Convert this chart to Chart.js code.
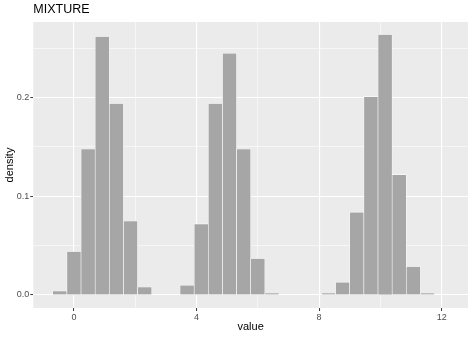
<!DOCTYPE html>
<html>
<head>
<meta charset="utf-8">
<script src="https://cdn.jsdelivr.net/npm/chart.js@4"></script>
<style>
  html, body { margin: 0; padding: 0; background: #ffffff; }
  #wrap { width: 474px; height: 338px; }
</style>
</head>
<body>
<div id="wrap"><canvas id="histChart" width="474" height="338"></canvas></div>
<script>
// ---- DATA ----
// bin centres (value axis)
const binCenters = [
  -0.462, 0.000, 0.462, 0.923, 1.385, 1.846, 2.308, 2.769, 3.231,
  3.692, 4.154, 4.615, 5.077, 5.538, 6.000, 6.462, 6.923, 7.385,
  7.846, 8.308, 8.769, 9.231, 9.692, 10.154, 10.615, 11.077, 11.538
];
// density per bin
const densities = [
  0.004, 0.044, 0.148, 0.262, 0.194, 0.075, 0.008, 0.000, 0.000,
  0.010, 0.072, 0.194, 0.245, 0.148, 0.037, 0.002, 0.000, 0.000,
  0.000, 0.002, 0.013, 0.084, 0.201, 0.264, 0.122, 0.029, 0.002
];
const xTicks = [0, 2, 4, 6, 8, 10, 12];        // majors: 0, 4, 8, 12
const xMajor = [0, 4, 8, 12];
const yTicks = [0, 0.05, 0.1, 0.15, 0.2, 0.25]; // majors: 0.0, 0.1, 0.2
const yMajor = [0, 0.1, 0.2];

const isMajor = (list, v) => list.some(m => Math.abs(m - v) < 1e-9);
const tickVal = ctx => (ctx && ctx.tick) ? ctx.tick.value : NaN;

// ---- ggplot-like panel background ----
const panelBg = {
  id: 'panelBg',
  beforeDraw(chart) {
    const { ctx, chartArea: a } = chart;
    ctx.save();
    ctx.fillStyle = '#EBEBEB';
    ctx.fillRect(a.left, a.top, a.right - a.left, a.bottom - a.top);
    ctx.restore();
  }
};

const gridWidth = (list) => ctx => isMajor(list, tickVal(ctx)) ? 1.1 : 0.55;
const tickColor = (list) => ctx => isMajor(list, tickVal(ctx)) ? '#333333' : 'rgba(0,0,0,0)';

new Chart(document.getElementById('histChart'), {
  type: 'bar',
  data: {
    datasets: [{
      label: 'density',
      data: binCenters.map((x, i) => ({ x, y: densities[i] })),
      backgroundColor: '#A6A6A6',
      borderColor: '#FFFFFF',
      borderWidth: 0.6,
      barPercentage: 1,
      categoryPercentage: 1
    }]
  },
  plugins: [panelBg],
  options: {
    responsive: false,
    animation: false,
    layout: { padding: { top: 0, right: 6, bottom: 0, left: 0 } },
    plugins: {
      legend: { display: false },
      tooltip: { enabled: false },
      title: {
        display: true,
        text: 'MIXTURE',
        align: 'start',
        fullSize: false,
        color: '#000000',
        font: { family: "'Liberation Sans', Arial, sans-serif", size: 12.5, weight: 'normal', lineHeight: 1.2 },
        padding: { top: 2.5, bottom: 4.5 }
      }
    },
    scales: {
      x: {
        type: 'linear',
        min: -1.327,
        max: 12.86,
        offset: false,
        afterBuildTicks: s => { s.ticks = xTicks.map(v => ({ value: v })); },
        afterFit: s => { s.height = 30; },
        border: { display: false },
        grid: {
          offset: false,
          color: '#FFFFFF',
          lineWidth: gridWidth(xMajor),
          tickColor: tickColor(xMajor),
          tickLength: 3,
          tickWidth: 1
        },
        ticks: {
          autoSkip: false,
          maxRotation: 0,
          padding: 1,
          color: '#4D4D4D',
          font: { family: "'Liberation Sans', Arial, sans-serif", size: 9 },
          callback: v => isMajor(xMajor, v) ? String(v) : ''
        },
        title: {
          display: true,
          text: 'value',
          color: '#000000',
          font: { family: "'Liberation Sans', Arial, sans-serif", size: 11 },
          padding: { top: 0, bottom: 4 }
        }
      },
      y: {
        type: 'linear',
        min: -0.0132,
        max: 0.2767,
        afterBuildTicks: s => { s.ticks = yTicks.map(v => ({ value: v })); },
        afterFit: s => { s.width = 33.3; },
        border: { display: false },
        grid: {
          color: '#FFFFFF',
          lineWidth: gridWidth(yMajor),
          tickColor: tickColor(yMajor),
          tickLength: 3,
          tickWidth: 1
        },
        ticks: {
          autoSkip: false,
          padding: 1,
          color: '#4D4D4D',
          font: { family: "'Liberation Sans', Arial, sans-serif", size: 9 },
          callback: v => isMajor(yMajor, v) ? v.toFixed(1) : ''
        },
        title: {
          display: true,
          text: 'density',
          color: '#000000',
          font: { family: "'Liberation Sans', Arial, sans-serif", size: 11 },
          padding: { top: 3.4, bottom: 0 }
        }
      }
    }
  }
});
</script>
</body>
</html>
